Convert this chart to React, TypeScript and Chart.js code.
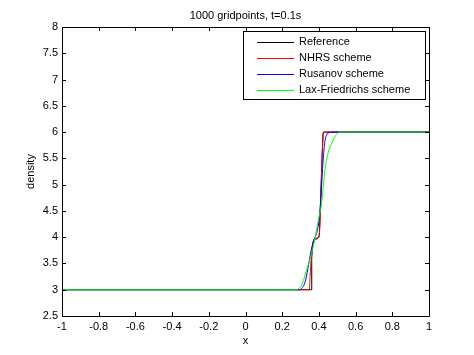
import { useEffect, useRef } from "react";
import { Chart, registerables } from "chart.js";

Chart.register(...registerables);

const titleText = "1000 gridpoints, t=0.1s";
const xLabel = "x";
const yLabel = "density";

const seriesNames = ["Reference", "NHRS scheme", "Rusanov scheme", "Lax-Friedrichs scheme"];
const seriesColors = ["#000000", "#ff0000", "#0000ff", "#00ff00"];

const refX = [-1, 0.36, 0.361, 0.367, 0.372, 0.4, 0.403, 0.408, 0.415, 0.422, 0.424, 1];
const refY = [3, 3, 3.6, 3.88, 3.95, 4.0, 4.1, 4.6, 5.3, 5.95, 6, 6];

const nhrsX = [-1, 0.348, 0.352, 0.358, 0.365, 0.375, 0.4, 0.406, 0.412, 0.418, 0.424, 0.43, 1];
const nhrsY = [3, 3, 3.25, 3.6, 3.85, 3.95, 4.0, 4.25, 4.9, 5.6, 5.92, 6, 6];

const rusX = [-1, 0.295, 0.31, 0.325, 0.34, 0.355, 0.37, 0.385, 0.4, 0.41, 0.42, 0.43, 0.44, 0.455, 0.47, 1];
const rusY = [3, 3, 3.04, 3.15, 3.4, 3.7, 3.92, 4.05, 4.3, 4.7, 5.3, 5.75, 5.93, 5.99, 6, 6];

const lfX = [-1, 0.27, 0.29, 0.31, 0.333, 0.36, 0.38, 0.397, 0.415, 0.433, 0.45, 0.477, 0.495, 0.515, 1];
const lfY = [3, 3, 3.02, 3.12, 3.38, 3.69, 4.0, 4.33, 4.65, 5.28, 5.6, 5.84, 5.95, 6, 6];

const xMin = -1, xMax = 1, xStep = 0.2;
const yMin = 2.5, yMax = 8, yStep = 0.5;

const FONT = '"Liberation Sans", Arial, Helvetica, sans-serif';

const fmt = (v: number) => String(Number(v.toFixed(2)));

const framePlugin = {
  id: "matlabFrame",
  afterDraw(chart: any) {
    const { ctx, chartArea: a, scales } = chart;
    ctx.save();
    ctx.strokeStyle = "#000";
    ctx.lineWidth = 1;
    ctx.beginPath();
    ctx.rect(Math.round(a.left) + 0.5, Math.round(a.top) + 0.5, Math.round(a.right - a.left), Math.round(a.bottom - a.top));
    ctx.stroke();
    const tl = 4;
    ctx.beginPath();
    scales.x.ticks.forEach((t: any) => {
      const px = Math.round(scales.x.getPixelForValue(t.value)) + 0.5;
      ctx.moveTo(px, a.bottom);
      ctx.lineTo(px, a.bottom - tl);
      ctx.moveTo(px, a.top);
      ctx.lineTo(px, a.top + tl);
    });
    scales.y.ticks.forEach((t: any) => {
      const py = Math.round(scales.y.getPixelForValue(t.value)) + 0.5;
      ctx.moveTo(a.left, py);
      ctx.lineTo(a.left + tl, py);
      ctx.moveTo(a.right, py);
      ctx.lineTo(a.right - tl, py);
    });
    ctx.stroke();

    // title
    ctx.fillStyle = "#000";
    ctx.font = `11px ${FONT}`;
    ctx.textAlign = "center";
    ctx.textBaseline = "middle";
    ctx.fillText(titleText, (a.left + a.right) / 2, 16);

    // legend
    const lx0 = 243.5, ly0 = 31.5, lx1 = 425.5, ly1 = 99.5;
    ctx.fillStyle = "#fff";
    ctx.fillRect(lx0, ly0, lx1 - lx0, ly1 - ly0);
    ctx.strokeStyle = "#000";
    ctx.strokeRect(lx0, ly0, lx1 - lx0, ly1 - ly0);
    const rows = [42, 58, 74, 90];
    seriesNames.forEach((name, i) => {
      ctx.strokeStyle = seriesColors[i];
      ctx.beginPath();
      ctx.moveTo(257, rows[i] + 0.5);
      ctx.lineTo(294, rows[i] + 0.5);
      ctx.stroke();
      ctx.fillStyle = "#000";
      ctx.textAlign = "left";
      ctx.textBaseline = "middle";
      ctx.fillText(name, 299, rows[i]);
    });
    ctx.restore();
  },
};

function pts(xs: number[], ys: number[]) {
  return xs.map((x, i) => ({ x, y: ys[i] }));
}

export default function App() {
  const ref = useRef<HTMLCanvasElement | null>(null);
  useEffect(() => {
    if (!ref.current) return;
    const data = [pts(refX, refY), pts(nhrsX, nhrsY), pts(rusX, rusY), pts(lfX, lfY)];
    const chart = new Chart(ref.current, {
      type: "line",
      data: {
        datasets: data.map((d, i) => ({
          label: seriesNames[i],
          data: d,
          borderColor: seriesColors[i],
          backgroundColor: seriesColors[i],
          borderWidth: 1,
          pointRadius: 0,
          tension: 0,
          cubicInterpolationMode: i === 0 ? "default" : "monotone",
          order: 4 - i,
        })) as any,
      },
      options: {
        animation: false,
        responsive: false,
        devicePixelRatio: 1,
        layout: { padding: { top: 27, right: 45, left: 0, bottom: 0 } },
        plugins: {
          legend: { display: false },
          title: { display: false },
          tooltip: { enabled: false },
        },
        scales: {
          x: {
            type: "linear",
            min: xMin,
            max: xMax,
            grid: { display: false, drawTicks: false },
            border: { display: false },
            ticks: {
              stepSize: xStep,
              padding: 4,
              color: "#000",
              font: { family: FONT, size: 11 },
              maxRotation: 0,
              autoSkip: false,
              callback: (v: any) => fmt(Number(v)),
            },
            title: {
              display: true,
              text: xLabel,
              color: "#000",
              font: { family: FONT, size: 11 },
              padding: { top: 0, bottom: 7 },
            },
            afterFit: (s: any) => {
              s.height = 39;
            },
          },
          y: {
            type: "linear",
            min: yMin,
            max: yMax,
            grid: { display: false, drawTicks: false },
            border: { display: false },
            ticks: {
              stepSize: yStep,
              padding: 4,
              color: "#000",
              font: { family: FONT, size: 11 },
              autoSkip: false,
              callback: (v: any) => fmt(Number(v)),
            },
            title: {
              display: true,
              text: yLabel,
              color: "#000",
              font: { family: FONT, size: 11 },
              padding: { top: 24, bottom: 0 },
            },
            afterFit: (s: any) => {
              s.width = 62;
            },
          },
        },
      },
      plugins: [framePlugin],
    });
    return () => chart.destroy();
  }, []);
  return (
    <div style={{ position: "absolute", left: 0, top: 0, width: 474, height: 355, background: "#fff" }}>
      <canvas ref={ref} width={474} height={355} />
    </div>
  );
}
